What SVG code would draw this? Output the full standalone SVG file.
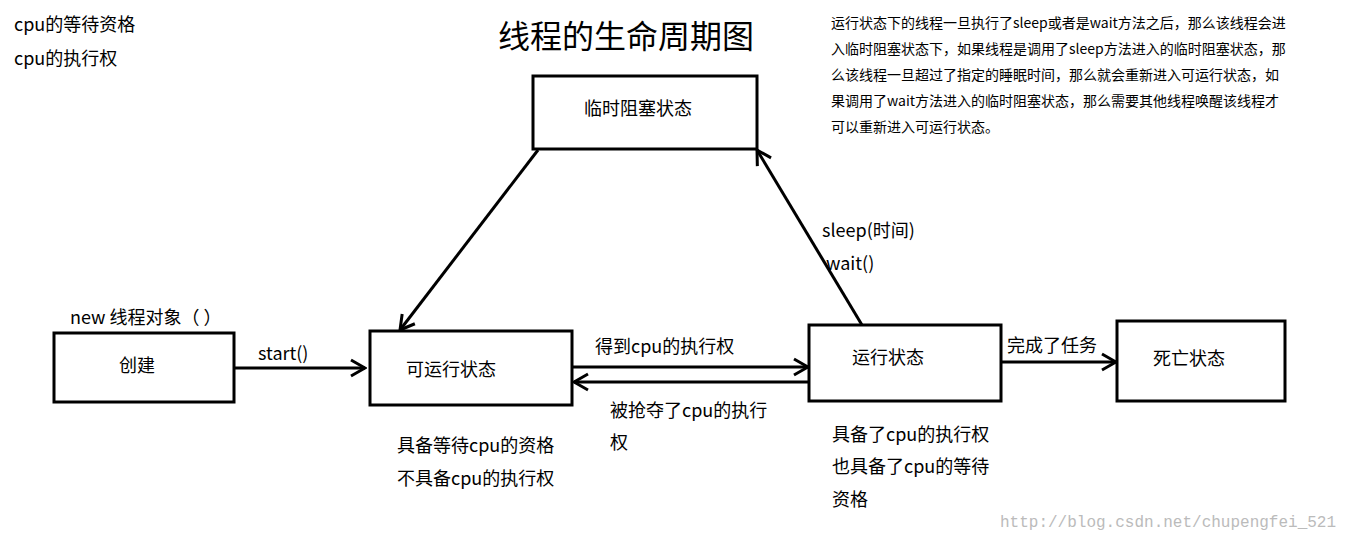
<svg xmlns="http://www.w3.org/2000/svg" width="1359" height="541" viewBox="0 0 1359 541">
<style>
text{font-family:"Noto Sans CJK SC","Liberation Sans",sans-serif;fill:#000;font-size:18px}
.box{fill:#fff;stroke:#000;stroke-width:3}
.ln{fill:none;stroke:#000;stroke-width:3}
.p{font-size:14px}
.u{font-family:"Liberation Mono",monospace;font-size:16px;fill:#bbb}
</style>
<defs><marker id="a" viewBox="0 0 20 20" refX="18" refY="10" markerWidth="20" markerHeight="20" markerUnits="userSpaceOnUse" orient="auto"><path d="M4,2 L18,10 L4,18" fill="none" stroke="#000" stroke-width="3"/></marker></defs>
<rect width="1359" height="541" fill="#fff"/>
<text x="14" y="31">cpu的等待资格</text>
<text x="14" y="65">cpu的执行权</text>
<text x="498" y="48" style="font-size:32px">线程的生命周期图</text>
<g class="p">
<text class="p" x="831" y="28">运行状态下的线程一旦执行了sleep或者是wait方法之后，那么该线程会进</text>
<text class="p" x="831" y="54">入临时阻塞状态下，如果线程是调用了sleep方法进入的临时阻塞状态，那</text>
<text class="p" x="831" y="80">么该线程一旦超过了指定的睡眠时间，那么就会重新进入可运行状态，如</text>
<text class="p" x="831" y="106">果调用了wait方法进入的临时阻塞状态，那么需要其他线程唤醒该线程才</text>
<text class="p" x="831" y="132">可以重新进入可运行状态。</text>
</g>
<g id="connectors">
<line class="ln" x1="234" y1="368" x2="365" y2="368" marker-end="url(#a)"/>
<line class="ln" x1="572" y1="367" x2="808" y2="367" marker-end="url(#a)"/>
<line class="ln" x1="808" y1="382" x2="574" y2="382" marker-end="url(#a)"/>
<line class="ln" x1="1001" y1="362" x2="1116" y2="362" marker-end="url(#a)"/>
<line class="ln" x1="862" y1="325" x2="757" y2="150" marker-end="url(#a)"/>
<line class="ln" x1="538" y1="150" x2="400" y2="330" marker-end="url(#a)"/>
<text x="258" y="360">start()</text>
<text x="595" y="353">得到cpu的执行权</text>
<text x="610" y="417">被抢夺了cpu的执行</text>
<text x="610" y="449">权</text>
<text x="1007" y="352">完成了任务</text>
<text x="822" y="237">sleep(时间)</text>
<text x="826" y="270">wait()</text>
</g>
<g id="create"><rect class="box" x="54" y="333" width="180" height="69"/><text x="119" y="372">创建</text></g>
<text x="70" y="324">new  线程对象（ ）</text>
<g id="runnable"><rect class="box" x="370" y="331" width="202" height="74"/><text x="406" y="376">可运行状态</text></g>
<text x="397" y="452">具备等待cpu的资格</text>
<text x="397" y="485">不具备cpu的执行权</text>
<g id="blocked"><rect class="box" x="533" y="76" width="224" height="73"/><text x="584" y="115">临时阻塞状态</text></g>
<g id="running"><rect class="box" x="809" y="325" width="192" height="76"/><text x="852" y="364">运行状态</text></g>
<text x="832" y="441">具备了cpu的执行权</text>
<text x="832" y="473">也具备了cpu的等待</text>
<text x="832" y="506">资格</text>
<g id="dead"><rect class="box" x="1117" y="321" width="168" height="80"/><text x="1153" y="365">死亡状态</text></g>
<text class="u" x="1000" y="527">http://blog.csdn.net/chupengfei_521</text>
</svg>
